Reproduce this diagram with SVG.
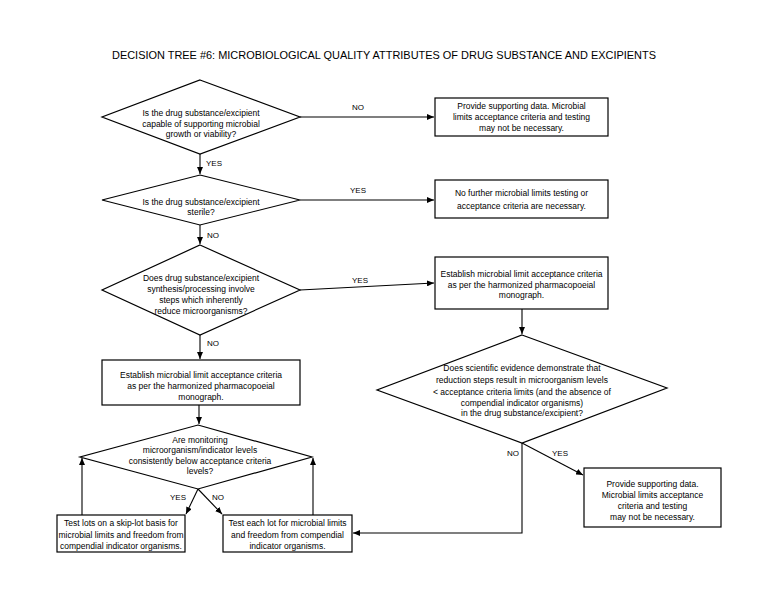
<svg xmlns="http://www.w3.org/2000/svg" width="768" height="594" viewBox="0 0 768 594">
<defs>
<marker id="ah" markerUnits="userSpaceOnUse" markerWidth="7" markerHeight="6" refX="7" refY="3" orient="auto">
<path d="M0,0 L7,3 L0,6 Z" fill="#000"/>
</marker>
<style>
.s{fill:#fff;stroke:#000;stroke-width:1.2}
.t{font-family:"Liberation Sans",Arial,sans-serif;font-size:8.5px;fill:#000;text-anchor:middle}
.l{font-family:"Liberation Sans",Arial,sans-serif;font-size:8px;fill:#000}
.c{fill:none;stroke:#000;stroke-width:1.1;marker-end:url(#ah)}
</style>
</defs>
<rect width="768" height="594" fill="#fff"/>
<text x="384" y="59" font-family="Liberation Sans, Arial, sans-serif" font-size="10.5" text-anchor="middle" textLength="544" lengthAdjust="spacingAndGlyphs">DECISION TREE #6: MICROBIOLOGICAL QUALITY ATTRIBUTES OF DRUG SUBSTANCE AND EXCIPIENTS</text>

<g id="connectors">
<line class="c" x1="300" y1="117" x2="434" y2="117"/>
<line class="c" x1="200" y1="154" x2="200" y2="174"/>
<line class="c" x1="300" y1="200" x2="434" y2="200"/>
<line class="c" x1="200" y1="225" x2="200" y2="244"/>
<line class="c" x1="300" y1="290" x2="434" y2="283"/>
<line class="c" x1="200" y1="335" x2="200" y2="359"/>
<line class="c" x1="522" y1="309" x2="522" y2="334"/>
<line class="c" x1="199" y1="405" x2="199" y2="424"/>
<line class="c" x1="198" y1="489" x2="186" y2="514"/>
<line class="c" x1="198" y1="489" x2="222" y2="514"/>
<line class="c" x1="82" y1="515" x2="82" y2="458"/>
<line class="c" x1="313" y1="515" x2="313" y2="458"/>
<polyline class="c" points="522,443 522,533 353,533"/>
<line class="c" x1="522" y1="443" x2="583" y2="475"/>
<text class="l" x="352" y="110">NO</text>
<text class="l" x="206" y="166">YES</text>
<text class="l" x="350" y="193">YES</text>
<text class="l" x="207" y="238">NO</text>
<text class="l" x="352" y="283">YES</text>
<text class="l" x="207" y="346">NO</text>
<text class="l" x="170" y="500">YES</text>
<text class="l" x="212" y="500">NO</text>
<text class="l" x="507" y="456">NO</text>
<text class="l" x="552" y="456">YES</text>
</g>

<g id="d1">
<polygon class="s" points="200,80 300,117 200,154 102,117"/>
<text class="t" x="201" y="116">Is the drug substance/excipient</text>
<text class="t" x="201" y="127">capable of supporting microbial</text>
<text class="t" x="201" y="137">growth or viability?</text>
</g>
<g id="b1">
<rect class="s" x="435" y="98" width="173" height="38"/>
<text class="t" x="521.5" y="109">Provide supporting data. Microbial</text>
<text class="t" x="521.5" y="120">limits acceptance criteria and testing</text>
<text class="t" x="521.5" y="131">may not be necessary.</text>
</g>
<g id="d2">
<polygon class="s" points="200,175 300,200 200,225 102,200"/>
<text class="t" x="201" y="205">Is the drug substance/excipient</text>
<text class="t" x="201" y="215">sterile?</text>
</g>
<g id="b2">
<rect class="s" x="435" y="180" width="173" height="38"/>
<text class="t" x="521.5" y="196">No further microbial limits testing or</text>
<text class="t" x="521.5" y="209">acceptance criteria are necessary.</text>
</g>
<g id="d3">
<polygon class="s" points="200,245 300,290 200,335 102,290"/>
<text class="t" x="201" y="281">Does drug substance/excipient</text>
<text class="t" x="201" y="292">synthesis/processing involve</text>
<text class="t" x="201" y="303">steps which inherently</text>
<text class="t" x="201" y="314">reduce microorganisms?</text>
</g>
<g id="b3">
<rect class="s" x="435" y="257" width="173" height="52"/>
<text class="t" x="521.5" y="277">Establish microbial limit acceptance criteria</text>
<text class="t" x="521.5" y="288">as per the harmonized pharmacopoeial</text>
<text class="t" x="521.5" y="298">monograph.</text>
</g>
<g id="b4">
<rect class="s" x="102" y="360" width="198" height="45"/>
<text class="t" x="201" y="378">Establish microbial limit acceptance criteria</text>
<text class="t" x="201" y="389">as per the harmonized pharmacopoeial</text>
<text class="t" x="201" y="400">monograph.</text>
</g>
<g id="d4">
<polygon class="s" points="198,425 312,457 198,489 80,457"/>
<text class="t" x="200" y="443">Are monitoring</text>
<text class="t" x="200" y="453">microorganism/indicator levels</text>
<text class="t" x="200" y="464">consistently below acceptance criteria</text>
<text class="t" x="200" y="474">levels?</text>
</g>
<g id="b5">
<rect class="s" x="57" y="515" width="128" height="37"/>
<text class="t" x="121" y="526">Test lots on a skip-lot basis for</text>
<text class="t" x="121" y="538">microbial limits and freedom from</text>
<text class="t" x="121" y="549">compendial indicator organisms.</text>
</g>
<g id="b6">
<rect class="s" x="223" y="515" width="129" height="37"/>
<text class="t" x="287.5" y="526">Test each lot for microbial limits</text>
<text class="t" x="287.5" y="538">and freedom from compendial</text>
<text class="t" x="287.5" y="549">indicator organisms.</text>
</g>
<g id="d5">
<polygon class="s" points="522,335 667,388 522,443 377,390"/>
<text class="t" x="522" y="371">Does scientific evidence demonstrate that</text>
<text class="t" x="522" y="383">reduction steps result in microorganism levels</text>
<text class="t" x="522" y="395">&lt; acceptance criteria limits (and the absence of</text>
<text class="t" x="522" y="406">compendial indicator organisms)</text>
<text class="t" x="522" y="416">in the drug substance/excipient?</text>
</g>
<g id="b7">
<rect class="s" x="584" y="468" width="137" height="59"/>
<text class="t" x="652.5" y="487">Provide supporting data.</text>
<text class="t" x="652.5" y="498">Microbial limits acceptance</text>
<text class="t" x="652.5" y="509">criteria and testing</text>
<text class="t" x="652.5" y="520">may not be necessary.</text>
</g>
</svg>
